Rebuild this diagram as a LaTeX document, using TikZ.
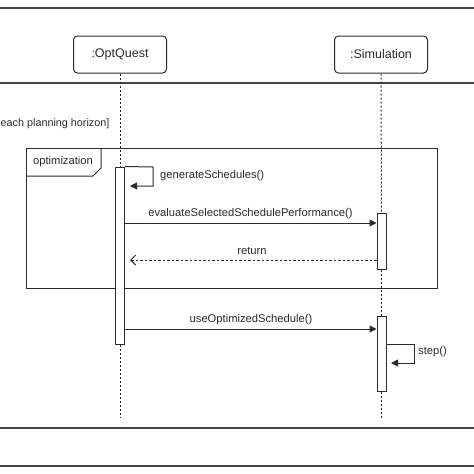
\documentclass[tikz,border=0pt]{standalone}
\usepackage{fontspec}
\setmainfont{Liberation Sans}
\usetikzlibrary{arrows.meta,calc}
\definecolor{ink}{HTML}{2B2B2B}
\definecolor{rule}{HTML}{444444}
\tikzset{
  lifebox/.style={draw=ink, line width=1pt, rounded corners=4pt, minimum width=93pt, minimum height=37pt, inner sep=0pt, font=\fontsize{12.5}{14}\selectfont, text=ink},
  actbar/.style={draw=ink, line width=1pt, fill=white, minimum width=9pt, inner sep=0pt},
  lifeline/.style={draw=ink, line width=1pt, dash pattern=on 2pt off 2pt},
  msg/.style={draw=ink, line width=1pt, -{Triangle[length=7pt,width=7pt]}},
  retmsg/.style={draw=ink, line width=1pt, dash pattern=on 2.5pt off 2pt, -{Straight Barb[length=5pt,width=10pt]}},
  lbl/.style={font=\fontsize{11.2}{13}\selectfont, text=ink, inner sep=0pt},
  frameline/.style={draw=rule, line width=1.3pt},
  fragbox/.style={draw=ink, line width=1pt}
}
\begin{document}
\begin{tikzpicture}[x=1pt,y=-1pt]
\useasboundingbox[fill=white] (0,0) rectangle (474,474);
% outer frame lines
\coordinate (fl1) at (0,8);   \coordinate (fr1) at (474,8);
\coordinate (fl2) at (0,83);  \coordinate (fr2) at (474,83);
\coordinate (fl3) at (0,428); \coordinate (fr3) at (474,428);
\coordinate (fl4) at (0,466); \coordinate (fr4) at (474,466);
\draw[frameline] (fl1) -- (fr1);
\draw[frameline] (fl2) -- (fr2);
\draw[frameline] (fl3) -- (fr3);
\draw[frameline] (fl4) -- (fr4);
\node[lbl, anchor=west, font=\fontsize{10.8}{13}\selectfont] (guard) at (0.5,124) {each planning horizon]};

% optimization fragment
\coordinate (ofA) at (26,148);
\coordinate (ofB) at (437,288);
\draw[fragbox] (ofA) rectangle (ofB);
\coordinate (tab1) at (101,148);
\coordinate (tab2) at (101,168);
\coordinate (tab3) at (93,176);
\coordinate (tab4) at (26,176);
\draw[fragbox] (tab1) -- (tab2) -- (tab3) -- (tab4);
\node[lbl] (optlbl) at (63,162) {optimization};

% lifeline heads
\node[lifebox] (oq) at (120,54.5) {:OptQuest};
\node[lifebox] (sim) at (381,54.5) {:Simulation};

% activation bars
\node[actbar, minimum height=177pt] (a1) at (120,255.5) {};
\node[actbar, minimum height=56pt] (s1) at (381.5,241) {};
\node[actbar, minimum height=75pt] (s2) at (381.5,353.5) {};

% lifelines
\coordinate (oqend) at (120,418);
\coordinate (simend) at (381.5,418);
\draw[lifeline] (oq.south) -- (a1.north);
\draw[lifeline] (a1.south) -- (oqend);
\draw[lifeline] (sim.south) -- (s1.north);
\draw[lifeline] (s1.south) -- (s2.north);
\draw[lifeline] (s2.south) -- (simend);
% redraw bars on top
\node[actbar, minimum height=177pt] at (120,255.5) {};
\node[actbar, minimum height=56pt] at (381.5,241) {};
\node[actbar, minimum height=75pt] at (381.5,353.5) {};

% generateSchedules self message
\coordinate (g1) at (153,167);
\coordinate (g2) at (153,186);
\coordinate (g3) at (130,186);
\draw[msg] (a1.north east) -- (g1) -- (g2) -- (g3);
\node[lbl, anchor=west] (glbl) at (160,176) {generateSchedules()};

% evaluate
\draw[msg] (a1.east |- 0,223) -- (s1.west |- 0,223);
\node[lbl] (elbl) at (250.5,214) {evaluateSelectedSchedulePerformance()};

% return
\coordinate (r1) at (130,260);
\draw[retmsg] (s1.west |- 0,260) -- (r1);
\node[lbl] (rlbl) at (252,251) {return};

% useOptimizedSchedule
\draw[msg] (a1.east |- 0,329) -- (s2.west |- 0,329);
\node[lbl] (ulbl) at (251,320) {useOptimizedSchedule()};

% step self message
\coordinate (st1) at (414,344);
\coordinate (st2) at (414,363);
\coordinate (st3) at (391,363);
\draw[msg] (s2.east |- 0,344) -- (st1) -- (st2) -- (st3);
\node[lbl, anchor=west] (slbl) at (418,352) {step()};
\end{tikzpicture}
\end{document}
